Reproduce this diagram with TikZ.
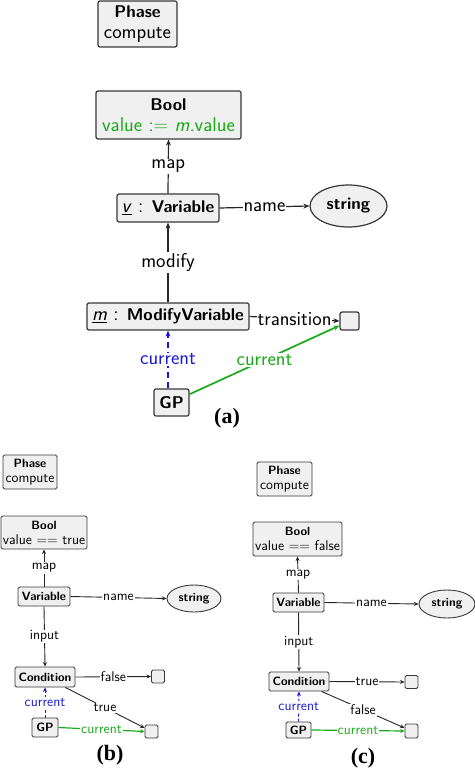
\documentclass[tikz,border=0pt]{standalone}
\usepackage{fontspec}
\newfontfamily\capfont{Liberation Serif}
\usetikzlibrary{arrows.meta,shapes.geometric}
\definecolor{boxfill}{gray}{0.94}
\definecolor{boxline}{gray}{0.22}
\definecolor{grn}{RGB}{25,170,25}
\definecolor{blu}{RGB}{25,25,215}
\newcommand\Bbig[1]{{\fontsize{17}{20}\selectfont\bfseries #1}}
\newcommand\Bsm[1]{{\fontsize{12}{14}\selectfont\bfseries #1}}
\begin{document}
\begin{tikzpicture}[x=1pt,y=-1pt,
  sz/.style 2 args={minimum width=#1pt, minimum height=#2pt},
  bigfont/.style={font=\sffamily\fontsize{20}{21}\selectfont},
  smallfont/.style={font=\sffamily\fontsize{14}{15}\selectfont},
  bigbox/.style={draw=boxline, fill=boxfill, rounded corners=2pt, line width=1.2pt, inner sep=0pt, align=center, bigfont},
  smallbox/.style={draw=boxline, fill=boxfill, rounded corners=1.5pt, line width=0.9pt, inner sep=0pt, align=center, smallfont},
  bigell/.style={bigbox, ellipse},
  smallell/.style={smallbox, ellipse},
  bigedge/.style={line width=1.2pt, draw=black!85},
  bigarr/.style={bigedge, -{Stealth[length=6pt,width=5pt]}},
  smalledge/.style={line width=0.9pt, draw=black!85},
  smallarr/.style={smalledge, -{Stealth[length=4.5pt,width=4pt]}},
  biglab/.style={fill=white, inner sep=1pt, bigfont},
  smalllab/.style={fill=white, inner sep=1pt, smallfont},
  bigdash/.style={dash pattern=on 6pt off 4pt},
  smalldash/.style={dash pattern=on 3pt off 2pt},
  captxt/.style={font=\capfont\bfseries\fontsize{22}{24}\selectfont, inner sep=0pt}
]
\useasboundingbox (0,0) rectangle (474,770);
% ---------------- (a)
\node[bigbox, sz={79}{46}] (pa) at (137.5,24) {\Bbig{Phase}\\compute};
\node[bigbox, sz={145}{48}] (ba) at (168.5,115) {\Bbig{Bool}\\\textcolor{grn}{value := \textit{m}.value}};
\node[bigbox, sz={102}{28}] (va) at (168,208) {\underline{\textit{v}} : \Bbig{Variable}};
\node[bigell, sz={77}{42}] (sa) at (348.5,206) {\Bbig{string}};
\node[bigbox, sz={162}{27}] (ma) at (168,316.5) {\underline{\textit{m}} : \Bbig{ModifyVariable}};
\node[bigbox, sz={19}{18}] (qa) at (349.5,321) {};
\node[bigbox, sz={35}{27}] (ga) at (171.5,402.5) {\Bbig{GP}};
\coordinate (gat) at (ma.south |- ga.north);
\draw[bigarr] (va.north) -- node[biglab]{map} (ba.south);
\draw[bigarr] (ma.north) -- node[biglab]{modify} (va.south);
\draw[bigarr] (va.east) -- node[biglab]{name} (sa.west);
\draw[bigarr] (ma.east) -- node[biglab]{transition} (qa.west);
\draw[bigarr, draw=blu, bigdash] (gat) -- node[biglab, text=blu]{current} (ma.south);
\draw[bigarr, draw=grn, line width=1.7pt] (ga) -- node[biglab, text=grn]{current} (qa);
\node[captxt] (capa) at (227,418) {(a)};
% ---------------- (b)
\node[smallbox, sz={54}{34}] (pb) at (30,472) {\Bsm{Phase}\\compute};
\node[smallbox, sz={86}{33}] (bb) at (44,532.5) {\Bsm{Bool}\\value == true};
\node[smallbox, sz={52}{19}] (vb) at (44,596.5) {\Bsm{Variable}};
\node[smallell, sz={54}{27}] (sb) at (194,598.5) {\Bsm{string}};
\node[smallbox, sz={60}{20}] (cb) at (45,677) {\Bsm{Condition}};
\node[smallbox, sz={13}{13}] (fb) at (158,676.5) {};
\node[smallbox, sz={13}{13}] (tb) at (151.5,731.5) {};
\node[smallbox, sz={26}{19}] (gb) at (45,727.5) {\Bsm{GP}};
\draw[smallarr] (vb.north) -- node[smalllab]{map} (bb.south);
\draw[smallarr] (vb.east) -- node[smalllab]{name} (sb.west);
\draw[smallarr] (vb.south) -- node[smalllab]{input} (cb.north);
\draw[smallarr] (cb.east) -- node[smalllab]{false} (fb.west);
\draw[smallarr] (cb) -- node[smalllab]{true} (tb);
\draw[smallarr, draw=blu, smalldash] (gb.north) -- node[smalllab, text=blu]{current} (cb.south);
\draw[smallarr, draw=grn, line width=1.2pt] (gb.east) -- node[smalllab, text=grn]{current} (tb.west);
\node[captxt] (capb) at (110,755) {(b)};
% ---------------- (c)
\node[smallbox, sz={55}{34}] (pc) at (284.5,479) {\Bsm{Phase}\\compute};
\node[smallbox, sz={89}{34}] (bc) at (297.5,539) {\Bsm{Bool}\\value == false};
\node[smallbox, sz={51}{19}] (vc) at (298.5,602.5) {\Bsm{Variable}};
\node[smallell, sz={56}{28}] (sc) at (447,604) {\Bsm{string}};
\node[smallbox, sz={60}{19}] (cc) at (299,681.5) {\Bsm{Condition}};
\node[smallbox, sz={13}{13}] (tc) at (411.5,682) {};
\node[smallbox, sz={13}{14}] (fc) at (411.5,731) {};
\node[smallbox, sz={25}{16}] (gc) at (298.5,730) {\Bsm{GP}};
\draw[smallarr] (vc.north) -- node[smalllab]{map} (bc.south);
\draw[smallarr] (vc.east) -- node[smalllab]{name} (sc.west);
\draw[smallarr] (vc.south) -- node[smalllab]{input} (cc.north);
\draw[smallarr] (cc.east) -- node[smalllab]{true} (tc.west);
\draw[smallarr] (cc) -- node[smalllab]{false} (fc);
\draw[smallarr, draw=blu, smalldash] (gc.north) -- node[smalllab, text=blu]{current} (cc.south);
\draw[smallarr, draw=grn, line width=1.2pt] (gc.east) -- node[smalllab, text=grn]{current} (fc.west);
\node[captxt] (capc) at (363,758) {(c)};
\end{tikzpicture}
\end{document}
